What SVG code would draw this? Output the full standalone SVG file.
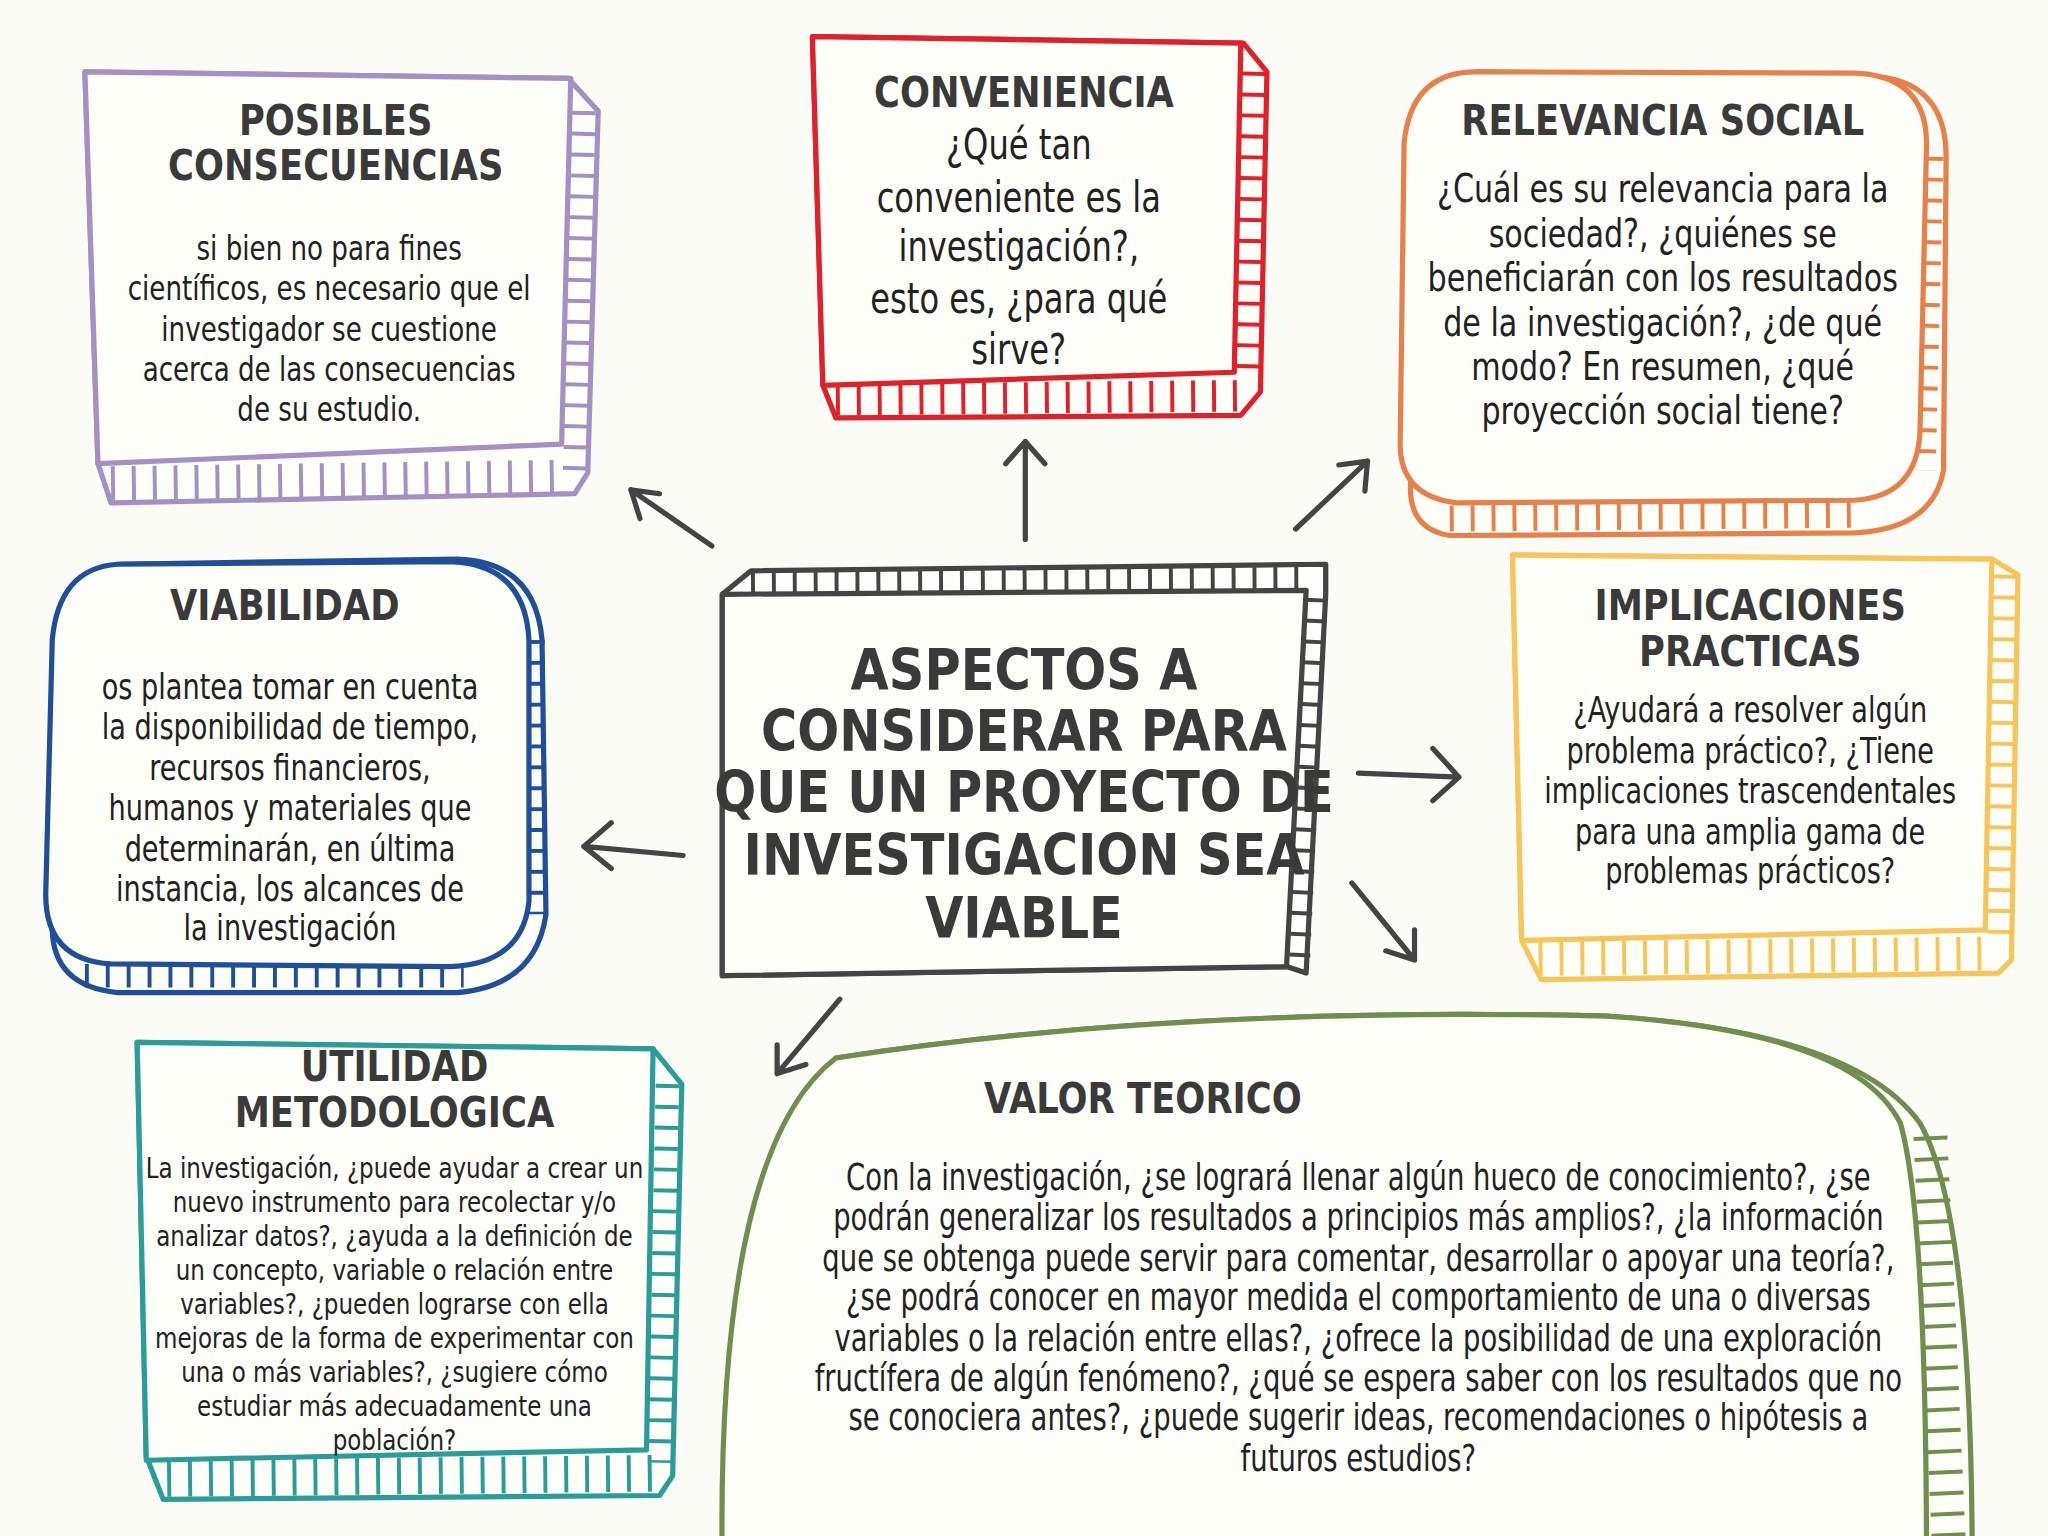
<svg xmlns="http://www.w3.org/2000/svg" width="2048" height="1536" viewBox="0 0 2048 1536">
<style>
.b{font-family:"DejaVu Sans",sans-serif;fill:#222;text-anchor:middle}
.t{font-family:"DejaVu Sans",sans-serif;font-weight:bold;fill:#3a3a3a;text-anchor:middle}
.o{fill:#fefef9;stroke-width:4;stroke-linejoin:round}
.h{fill:none;stroke-dasharray:3 13}
.a{fill:none;stroke:#444;stroke-width:4;stroke-linecap:round;stroke-linejoin:round}
</style>
<rect width="2048" height="1536" fill="#fcfcf7"/>
<g transform="scale(1.30612)">
<g id="posibles" stroke="#a58fc4">
<polygon class="o" points="65,55 435,60 458,85 450,362 440,378 85,385 75,355"/>
<line class="h" x1="447" y1="85" x2="440" y2="360" stroke-width="18"/>
<line class="h" x1="85" y1="370" x2="435" y2="365" stroke-width="26"/>
<polygon class="o" points="65,55 437,60 430,340 75,355"/>
<g transform="translate(257,0) scale(0.82,1)" stroke="none"><text class="t" x="0" y="103" font-size="33">POSIBLES</text><text class="t" x="0" y="138" font-size="33">CONSECUENCIAS</text></g>
<g class="b" font-size="26" stroke="none" transform="translate(252,0) scale(0.77,1)"><text x="0" y="199">si bien no para fines</text><text x="0" y="230">científicos, es necesario que el</text><text x="0" y="261">investigador se cuestione</text><text x="0" y="292">acerca de las consecuencias</text><text x="0" y="322">de su estudio.</text></g>
</g>
<g id="conveniencia" stroke="#e0202a">
<polygon class="o" points="622,28 952,33 970,55 965,300 950,318 640,320 630,295"/>
<line class="h" x1="960" y1="55" x2="955" y2="295" stroke-width="18"/>
<line class="h" x1="640" y1="306" x2="950" y2="303" stroke-width="24"/>
<polygon class="o" points="622,28 950,33 945,285 630,295"/>
<g transform="translate(784,0) scale(0.82,1)" stroke="none"><text class="t" x="0" y="82" font-size="33">CONVENIENCIA</text></g>
<g class="b" font-size="32" stroke="none" transform="translate(780,0) scale(0.77,1)"><text x="0" y="122">¿Qué tan</text><text x="0" y="162">conveniente es la</text><text x="0" y="200">investigación?,</text><text x="0" y="240">esto es, ¿para qué</text><text x="0" y="279">sirve?</text></g>
</g>
<g id="relevancia" stroke="#e8804a">
<path class="o" d="M1130,55 L1430,58 Q1490,60 1490,120 L1488,360 Q1480,405 1420,408 L1110,410 Q1078,405 1080,370 Z"/>
<line class="h" x1="1480" y1="120" x2="1474" y2="360" stroke-width="16"/>
<line class="h" x1="1110" y1="397" x2="1430" y2="394" stroke-width="20"/>
<path class="o" d="M1130,55 L1420,56 Q1475,58 1475,110 L1470,330 Q1468,380 1420,383 L1115,385 Q1072,380 1072,340 L1075,110 Q1080,55 1130,55 Z"/>
<g transform="translate(1273,0) scale(0.82,1)" stroke="none"><text class="t" x="0" y="103" font-size="33">RELEVANCIA SOCIAL</text></g>
<g class="b" font-size="30" stroke="none" transform="translate(1273,0) scale(0.77,1)"><text x="0" y="155">¿Cuál es su relevancia para la</text><text x="0" y="189">sociedad?, ¿quiénes se</text><text x="0" y="223">beneficiarán con los resultados</text><text x="0" y="257">de la investigación?, ¿de qué</text><text x="0" y="291">modo? En resumen, ¿qué</text><text x="0" y="325">proyección social tiene?</text></g>
</g>
<g id="viabilidad" stroke="#1f4e9a">
<path class="o" d="M90,432 L350,428 Q410,430 415,490 L418,700 Q410,755 350,760 L90,760 Q40,755 40,710 Z"/>
<line class="h" x1="410" y1="490" x2="411" y2="700" stroke-width="14"/>
<line class="h" x1="65" y1="747" x2="355" y2="747" stroke-width="18"/>
<path class="o" d="M90,432 L345,430 Q402,432 405,490 L405,690 Q400,738 345,740 L85,738 Q35,735 35,685 L40,490 Q45,435 90,432 Z"/>
<g transform="translate(218,0) scale(0.82,1)" stroke="none"><text class="t" x="0" y="475" font-size="33">VIABILIDAD</text></g>
<g class="b" font-size="27" stroke="none" transform="translate(222,0) scale(0.77,1)"><text x="0" y="535">os plantea tomar en cuenta</text><text x="0" y="566">la disponibilidad de tiempo,</text><text x="0" y="597">recursos financieros,</text><text x="0" y="628">humanos y materiales que</text><text x="0" y="659">determinarán, en última</text><text x="0" y="690">instancia, los alcances de</text><text x="0" y="720">la investigación</text></g>
</g>
<g id="centro" stroke="#444">
<polygon class="o" points="553,455 575,437 1015,432 1015,455 1000,745 985,740 553,747"/>
<line class="h" x1="575" y1="446" x2="1005" y2="443" stroke-width="18"/>
<line class="h" x1="1008" y1="458" x2="995" y2="735" stroke-width="16"/>
<polygon class="o" points="553,455 1000,452 985,740 553,747"/>
<g class="t" font-size="44" stroke="none" transform="translate(784,0) scale(0.86,1)"><text x="0" y="528">ASPECTOS A</text><text x="0" y="575">CONSIDERAR PARA</text><text x="0" y="622">QUE UN PROYECTO DE</text><text x="0" y="670">INVESTIGACION SEA</text><text x="0" y="718">VIABLE</text></g>
</g>
<g id="implicaciones" stroke="#f7c55a">
<polygon class="o" points="1158,425 1525,428 1545,440 1540,735 1530,745 1180,750 1165,720"/>
<line class="h" x1="1535" y1="440" x2="1530" y2="725" stroke-width="18"/>
<line class="h" x1="1178" y1="734" x2="1525" y2="730" stroke-width="26"/>
<polygon class="o" points="1158,425 1525,428 1520,712 1165,720"/>
<g transform="translate(1340,0) scale(0.82,1)" stroke="none"><text class="t" x="0" y="475" font-size="33">IMPLICACIONES</text><text class="t" x="0" y="510" font-size="33">PRACTICAS</text></g>
<g class="b" font-size="27" stroke="none" transform="translate(1340,0) scale(0.77,1)"><text x="0" y="553">¿Ayudará a resolver algún</text><text x="0" y="584">problema práctico?, ¿Tiene</text><text x="0" y="615">implicaciones trascendentales</text><text x="0" y="646">para una amplia gama de</text><text x="0" y="676">problemas prácticos?</text></g>
</g>
<g id="utilidad" stroke="#2a9d9a">
<polygon class="o" points="105,798 500,803 522,830 515,1130 505,1145 125,1148 112,1115"/>
<line class="h" x1="511" y1="830" x2="505" y2="1120" stroke-width="18"/>
<line class="h" x1="128" y1="1132" x2="500" y2="1128" stroke-width="28"/>
<polygon class="o" points="105,798 500,803 495,1110 112,1118"/>
<g transform="translate(302,0) scale(0.82,1)" stroke="none"><text class="t" x="0" y="828" font-size="33">UTILIDAD</text><text class="t" x="0" y="863" font-size="33">METODOLOGICA</text></g>
<g class="b" font-size="22" stroke="none" transform="translate(302,0) scale(0.8,1)"><text x="0" y="902">La investigación, ¿puede ayudar a crear un</text><text x="0" y="928">nuevo instrumento para recolectar y/o</text><text x="0" y="954">analizar datos?, ¿ayuda a la definición de</text><text x="0" y="980">un concepto, variable o relación entre</text><text x="0" y="1006">variables?, ¿pueden lograrse con ella</text><text x="0" y="1032">mejoras de la forma de experimentar con</text><text x="0" y="1058">una o más variables?, ¿sugiere cómo</text><text x="0" y="1084">estudiar más adecuadamente una</text><text x="0" y="1110">población?</text></g>
</g>
<g id="valor" stroke="#6f8f4f">
<path class="o" d="M640,810 Q900,770 1230,778 Q1420,790 1470,860 Q1510,930 1510,1200 L1460,1200 Z" stroke-width="6"/>
<line class="h" x1="1478" y1="870" x2="1492" y2="1180" stroke-width="26" stroke-dasharray="4 30"/>
<path class="o" d="M553,1200 Q548,880 640,810 Q900,770 1230,778 Q1420,790 1455,860 Q1475,930 1475,1200" stroke-width="7"/>
<g transform="translate(875,0) scale(0.82,1)" stroke="none"><text class="t" x="0" y="852" font-size="33">VALOR TEORICO</text></g>
<g class="b" font-size="28" stroke="none" transform="translate(1040,0) scale(0.75,1)"><text x="0" y="911">Con la investigación, ¿se logrará llenar algún hueco de conocimiento?, ¿se</text><text x="0" y="942">podrán generalizar los resultados a principios más amplios?, ¿la información</text><text x="0" y="973">que se obtenga puede servir para comentar, desarrollar o apoyar una teoría?,</text><text x="0" y="1003">¿se podrá conocer en mayor medida el comportamiento de una o diversas</text><text x="0" y="1034">variables o la relación entre ellas?, ¿ofrece la posibilidad de una exploración</text><text x="0" y="1065">fructífera de algún fenómeno?, ¿qué se espera saber con los resultados que no</text><text x="0" y="1095">se conociera antes?, ¿puede sugerir ideas, recomendaciones o hipótesis a</text><text x="0" y="1126">futuros estudios?</text></g>
</g>
<g id="connectors" class="a">
<path d="M545,418 L483,375 M483,375 L505,378 M483,375 L490,397"/>
<path d="M785,413 L785,338 M770,355 L785,338 L800,355"/>
<path d="M992,405 L1047,353 M1025,356 L1047,353 L1045,376"/>
<path d="M1040,592 L1117,595 M1097,573 L1117,595 L1097,613"/>
<path d="M1035,676 L1083,735 M1083,712 L1083,735 L1061,728"/>
<path d="M643,765 L595,822 M595,800 L595,822 L617,815"/>
<path d="M523,655 L447,648 M468,630 L447,648 L468,665"/>
</g>
</g>
</svg>
